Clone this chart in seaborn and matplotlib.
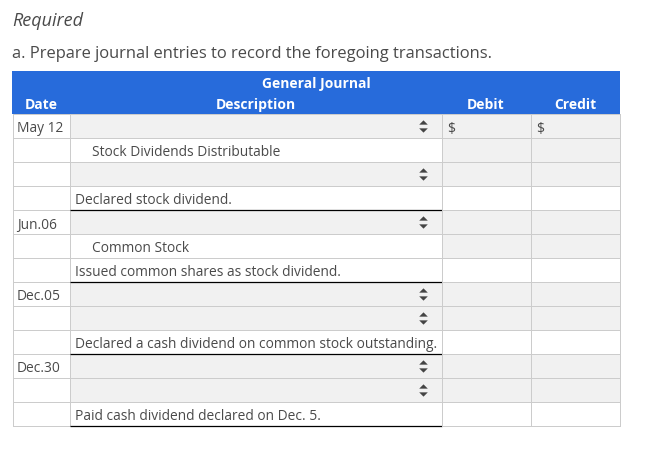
import numpy as np
import matplotlib.pyplot as plt
from matplotlib.colors import ListedColormap
import seaborn as sns

plt.rcParams['font.family'] = ['Open Sans', 'DejaVu Sans']

dates = ['May 12', '', '', '', 'Jun.06', '', '', 'Dec.05', '', '', 'Dec.30', '', '']
descriptions = ['', 'Stock Dividends Distributable', '', 'Declared stock dividend.', '',
                'Common Stock', 'Issued common shares as stock dividend.', '', '',
                'Declared a cash dividend on common stock outstanding.', '', '',
                'Paid cash dividend declared on Dec. 5.']
indented = [1, 5]
dropdown_rows = [0, 2, 4, 7, 8, 10, 11]
total_rows = [3, 6, 9, 12]
date_shade = [0] * 13
desc_shade = [1, 0, 1, 0, 1, 0, 0, 1, 1, 0, 1, 1, 0]
amount_shade = [1, 1, 1, 0, 1, 1, 0, 1, 1, 0, 1, 1, 0]

W, H = 661, 452
TOP, BOTTOM = 115, 427
TEXT = '#4a4a4a'
cmap = ListedColormap(['#ffffff', '#f1f1f1'])

fig = plt.figure(figsize=(W / 100, H / 100), dpi=100)


def column(x0, x1, shade):
    ax = fig.add_axes([x0 / W, 1 - BOTTOM / H, (x1 - x0) / W, (BOTTOM - TOP) / H])
    sns.heatmap(np.array(shade).reshape(-1, 1), ax=ax, cmap=cmap, vmin=0, vmax=1, cbar=False,
                linewidths=0.72, linecolor='#cccccc', xticklabels=False, yticklabels=False)
    ax.collections[0].set_clip_on(False)
    return ax


ax_date = column(12.5, 69.5, date_shade)
ax_desc = column(69.5, 441.5, desc_shade)
ax_debit = column(441.5, 530.5, amount_shade)
ax_credit = column(530.5, 619.5, amount_shade)

for i, d in enumerate(dates):
    ax_date.text(0.08, i + 0.5, d, color=TEXT, fontsize=9.9, va='center_baseline')

for i, d in enumerate(descriptions):
    ax_desc.text(0.061 if i in indented else 0.014, i + 0.5, d, color=TEXT, fontsize=9.9,
                 va='center_baseline')

# black rule under the narration rows
for i in total_rows:
    ax_desc.plot([0, 1], [i + 1, i + 1], color='black', lw=0.9, clip_on=False, zorder=5,
                 solid_capstyle='butt')

# select box arrows
up_arrow = [(-1, -0.5), (1, -0.5), (0, 0.5)]
down_arrow = [(-1, 0.5), (1, 0.5), (0, -0.5)]
for i in dropdown_rows:
    ax_desc.plot([0.951], [i + 0.5 - 0.16], marker=up_arrow, ms=6.2, color='#444444', mew=0)
    ax_desc.plot([0.951], [i + 0.5 + 0.16], marker=down_arrow, ms=6.2, color='#444444', mew=0)

ax_debit.text(0.06, 0.5, '$', color=TEXT, fontsize=9.9, va='center_baseline')
ax_credit.text(0.06, 0.5, '$', color=TEXT, fontsize=9.9, va='center_baseline')

# header band
ax_head = fig.add_axes([12 / W, 1 - TOP / H, 608 / W, 43 / H])
ax_head.set_facecolor('#276bdb')
ax_head.set_xticks([])
ax_head.set_yticks([])
sns.despine(ax=ax_head, left=True, bottom=True)

for label, x, y in [('General Journal', 316, 82.6), ('Date', 41, 103.6), ('Description', 256, 103.6),
                    ('Debit', 486, 103.6), ('Credit', 575, 103.6)]:
    fig.text(x / W, 1 - y / H, label, color='white', fontsize=10, fontweight='bold',
             ha='center', va='center_baseline')

fig.text(12.5 / W, 1 - 19 / H, 'Required', color=TEXT, fontsize=13, style='italic', va='center_baseline')
fig.text(12.5 / W, 1 - 52 / H, 'a. Prepare journal entries to record the foregoing transactions.',
         color=TEXT, fontsize=11.9, va='center_baseline')

fig.savefig('out.png', dpi=100)
